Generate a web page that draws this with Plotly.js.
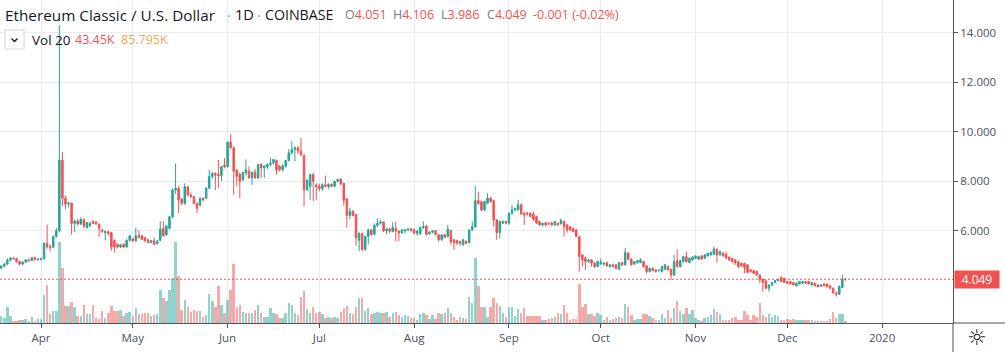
<!DOCTYPE html>
<html>
<head>
<meta charset="utf-8">
<script src="https://cdn.plot.ly/plotly-3.0.1.min.js"></script>
<style>html,body{margin:0;padding:0;background:#fff;}#chart{width:1005px;height:352px;}</style>
</head>
<body>
<div id="chart"></div>
<script>
// ---- DATA (ETC/USD daily, Coinbase, 2019-03-19 .. 2019-12-20) ----
const startDate = '2019-03-19';
const opens = [
 4.50,4.58,4.66,4.82,4.90,4.88,4.76,4.66,4.74,4.84,4.80,4.92,4.84,
 4.86,4.88,5.50,5.36,5.34,5.77,6.00,8.85,7.32,7.08,7.12,6.30,6.40,6.28,6.46,6.13,6.20,6.38,6.36,6.27,6.03,5.93,5.97,5.93,5.62,5.46,5.35,5.46,5.35,5.62,
 5.68,5.60,5.82,5.80,5.72,5.64,5.53,5.60,5.48,5.62,6.10,5.84,6.10,6.57,7.65,7.72,7.28,7.11,7.78,7.45,7.38,7.11,7.04,7.31,7.31,7.72,8.19,8.32,8.28,8.22,8.66,
 8.59,9.58,9.35,8.45,8.27,8.06,8.34,8.41,8.14,8.36,8.14,8.68,8.54,8.58,8.68,8.74,8.84,8.61,8.47,8.61,8.84,9.15,9.28,9.35,9.22,9.04,7.66,7.80,8.27,7.85,
 7.80,7.70,7.86,7.78,7.87,7.80,8.00,8.09,7.91,7.29,6.62,6.79,6.66,5.62,5.89,5.25,5.77,6.04,5.86,6.22,6.31,6.36,6.00,6.08,5.98,6.10,5.99,5.92,6.00,6.04,6.08,
 6.05,5.90,5.88,6.13,6.20,5.88,5.95,6.01,5.84,5.64,5.84,5.77,6.01,5.64,5.61,5.57,5.44,5.57,5.53,6.04,6.17,7.22,7.18,6.85,7.11,7.32,7.22,6.44,5.93,6.31,6.38,
 6.31,6.71,6.85,6.85,7.05,6.71,6.71,6.71,6.68,6.58,6.38,6.24,6.33,6.31,6.31,6.24,6.31,6.28,6.38,6.24,6.17,6.10,6.04,5.77,5.03,4.90,4.77,4.83,4.70,4.56,
 4.68,4.66,4.72,4.56,4.63,4.63,4.45,4.72,4.63,5.10,4.86,4.67,4.72,4.72,4.76,4.59,4.36,4.49,4.43,4.40,4.36,4.45,4.56,4.45,4.22,4.80,4.56,4.76,4.96,4.72,4.83,
 4.90,4.86,4.99,4.90,4.99,5.03,5.06,5.26,5.03,5.10,5.06,4.94,4.90,4.83,4.76,4.69,4.69,4.63,4.43,4.40,4.36,4.22,4.05,3.98,3.69,3.82,3.92,4.00,4.13,4.09,
 3.96,3.96,3.92,3.78,3.86,3.90,3.96,3.96,3.82,3.89,3.82,3.76,3.86,3.86,3.78,3.69,3.50,3.45,3.72,4.051
];
const highs = [
 4.62,4.70,4.90,4.95,4.95,4.92,4.80,4.78,4.86,4.88,4.95,4.96,4.90,
 4.92,5.55,6.25,5.45,5.82,6.13,14.30,9.18,7.42,7.18,7.14,6.45,6.48,6.55,6.50,6.36,6.38,6.44,6.40,6.30,6.10,6.02,6.00,5.96,5.66,5.50,5.48,5.50,5.66,5.84,
 5.72,6.13,6.02,5.84,5.76,5.68,5.64,5.74,5.64,6.40,6.40,6.22,6.60,7.70,8.72,7.80,7.32,7.92,7.82,7.55,7.42,7.15,7.36,7.36,7.76,8.46,8.38,8.36,8.86,8.62,8.93,
 9.60,9.89,9.40,8.50,8.36,8.36,8.88,8.60,8.40,8.50,8.70,8.72,8.64,8.72,8.95,8.90,8.88,8.66,8.70,8.84,9.30,9.62,9.42,9.42,9.76,9.10,8.10,8.30,8.35,7.92,
 7.90,7.92,8.23,7.92,7.92,8.02,8.10,8.12,7.95,7.32,6.92,6.84,6.70,5.95,5.92,5.82,6.10,6.08,6.30,6.50,6.45,6.40,6.12,6.12,6.35,6.38,6.02,6.06,6.08,6.10,6.12,
 6.10,6.02,6.18,6.39,6.24,5.99,6.04,6.04,5.88,5.88,5.88,6.24,6.06,5.68,5.64,5.60,5.68,5.62,6.06,6.38,7.81,7.58,7.22,7.22,7.52,7.36,7.26,6.48,6.42,6.42,6.42,
 6.74,7.05,6.92,7.25,7.11,6.76,6.78,6.74,6.78,6.62,6.42,6.32,6.36,6.34,6.38,6.40,6.34,6.51,6.42,6.28,6.20,6.14,6.08,5.80,5.08,4.94,4.86,4.86,4.74,4.78,
 4.88,4.74,4.76,4.66,4.68,4.66,4.76,4.76,5.30,5.15,4.90,4.78,4.82,4.90,4.80,4.62,4.52,4.52,4.46,4.45,4.58,4.67,4.60,4.48,5.03,5.26,4.84,5.00,5.17,4.92,4.98,
 5.02,5.00,5.04,5.06,5.12,5.16,5.36,5.30,5.20,5.14,5.17,4.98,4.92,4.86,4.80,4.72,4.72,4.66,4.46,4.42,4.40,4.25,4.08,4.02,3.84,3.94,4.02,4.08,4.16,4.12,
 3.98,3.98,3.95,3.92,3.98,3.99,3.98,3.98,3.94,3.92,3.84,3.84,3.88,3.88,3.82,3.71,3.55,3.80,4.24,4.106
];
const lows = [
 4.45,4.52,4.63,4.78,4.84,4.72,4.60,4.62,4.70,4.76,4.78,4.80,4.80,
 4.80,4.84,5.28,5.18,5.30,5.72,5.95,7.00,6.88,6.95,5.85,5.95,6.22,6.24,6.10,6.10,6.16,6.28,6.25,5.75,5.92,5.62,5.82,5.20,5.13,5.30,5.30,5.32,5.32,5.58,
 5.55,5.56,5.70,5.62,5.56,5.50,5.50,5.44,5.46,5.58,5.78,5.80,6.06,6.50,7.50,6.71,7.04,7.05,7.40,7.32,7.06,6.71,6.98,7.20,7.28,7.68,8.12,7.65,7.72,8.00,8.52,
 8.55,9.30,7.46,7.80,7.32,8.00,8.25,8.10,7.86,8.10,8.10,8.14,8.14,8.50,8.60,8.68,8.27,8.40,8.40,8.55,8.80,9.08,8.80,9.10,9.00,6.99,7.60,7.26,7.20,7.25,
 7.60,7.62,7.74,7.70,7.76,7.76,7.96,7.85,7.02,6.12,6.46,6.58,5.40,5.18,5.16,5.20,5.45,5.80,5.82,6.15,6.25,5.95,5.86,5.90,5.94,5.58,5.58,5.88,5.90,5.98,5.96,
 5.85,5.80,5.84,6.08,5.82,5.84,5.90,5.82,5.57,5.60,5.70,5.74,5.44,5.23,5.46,5.40,5.40,5.46,5.50,6.00,6.12,7.05,6.80,6.80,7.08,7.14,6.17,5.64,5.70,6.28,6.26,
 6.24,6.66,6.78,6.80,6.66,6.24,6.62,6.55,6.40,6.28,6.20,6.18,6.17,6.24,6.22,6.20,6.20,6.26,5.77,5.93,6.00,5.94,5.75,4.36,4.56,4.43,4.70,4.56,4.50,4.54,
 4.62,4.60,4.56,4.52,4.52,4.45,4.42,4.60,4.60,4.82,4.60,4.62,4.68,4.70,4.52,4.29,4.32,4.36,4.32,4.36,4.32,4.42,4.40,4.02,4.18,4.52,4.52,4.72,4.72,4.70,4.80,
 4.86,4.82,4.84,4.88,4.96,5.00,5.02,4.72,5.00,4.96,4.88,4.80,4.72,4.63,4.49,4.56,4.29,4.30,4.32,4.26,4.20,3.89,3.55,3.66,3.55,3.78,3.88,3.96,3.92,3.90,
 3.84,3.84,3.80,3.76,3.84,3.86,3.86,3.84,3.80,3.76,3.72,3.74,3.76,3.72,3.64,3.46,3.35,3.42,3.70,3.986
];
const closes = [
 4.58,4.66,4.82,4.90,4.88,4.76,4.66,4.74,4.84,4.80,4.92,4.84,4.86,
 4.88,5.50,5.36,5.34,5.77,6.00,8.85,7.32,7.08,7.12,6.30,6.40,6.28,6.46,6.20,6.34,6.30,6.30,6.28,6.11,5.97,5.97,5.89,5.35,5.35,5.35,5.44,5.35,5.62,5.80,
 5.60,5.80,5.73,5.66,5.60,5.53,5.60,5.46,5.58,6.07,5.80,6.20,6.57,7.65,7.72,7.25,7.11,7.78,7.45,7.38,7.11,6.91,7.31,7.25,7.72,8.19,8.32,8.25,8.22,8.59,8.59,
 9.58,9.35,8.41,8.20,8.00,8.36,8.47,8.14,8.36,8.14,8.68,8.54,8.61,8.68,8.74,8.88,8.45,8.47,8.61,8.84,9.15,9.28,9.35,9.22,9.08,7.66,8.04,8.27,8.00,7.78,
 7.70,7.86,7.80,7.87,7.80,8.00,8.07,7.89,7.23,6.62,6.79,6.62,5.72,5.89,5.25,5.77,6.04,5.86,6.22,6.31,6.36,6.00,6.08,5.98,6.15,5.99,5.92,6.05,6.04,6.08,6.02,
 5.92,6.00,6.13,6.18,5.85,5.95,6.01,5.86,5.64,5.84,5.74,6.07,5.57,5.53,5.50,5.50,5.64,5.50,6.04,6.17,7.22,7.11,6.85,7.18,7.32,7.18,6.44,5.93,6.38,6.38,6.31,
 6.71,6.85,6.92,7.05,6.68,6.64,6.68,6.58,6.47,6.31,6.24,6.31,6.24,6.28,6.24,6.38,6.24,6.42,6.17,6.04,6.04,5.97,5.77,4.97,4.83,4.77,4.83,4.70,4.56,4.77,
 4.74,4.70,4.59,4.63,4.56,4.49,4.72,4.63,5.13,4.86,4.63,4.76,4.80,4.83,4.56,4.36,4.49,4.40,4.36,4.42,4.56,4.63,4.43,4.22,4.76,4.56,4.80,4.96,4.76,4.90,4.94,
 4.99,4.96,4.86,5.03,5.10,5.13,5.26,5.03,5.17,4.99,4.90,4.83,4.76,4.72,4.56,4.59,4.53,4.32,4.36,4.29,4.22,4.05,3.92,3.69,3.82,3.92,4.00,4.05,3.96,3.92,
 3.89,3.86,3.82,3.89,3.96,3.95,3.89,3.86,3.92,3.78,3.75,3.82,3.78,3.75,3.69,3.50,3.45,3.76,4.06,4.049
];
// volume in thousands of ETC
const volumesK = [
 152,109,347,152,43,43,65,65,87,43,130,43,87,
 87,608,825,195,260,260,1758,1194,369,369,456,347,152,152,391,195,195,391,109,87,260,109,217,369,260,260,282,152,217,239,
 152,326,195,195,217,217,152,174,195,716,543,477,716,977,1758,1020,282,499,347,239,282,260,260,130,174,629,477,347,803,391,217,
 499,716,1280,347,391,239,217,217,217,282,391,217,130,130,326,217,195,109,109,217,434,391,217,174,564,694,304,217,347,217,
 239,195,109,130,109,130,109,239,326,369,217,195,347,543,543,260,326,195,217,239,217,217,239,130,217,239,174,130,174,152,109,
 109,65,195,217,174,87,174,87,217,195,217,326,217,130,65,130,109,87,564,434,1411,803,347,347,130,347,543,434,369,217,130,
 347,347,152,304,217,326,152,152,152,152,152,65,65,87,109,130,217,195,391,217,65,87,87,846,347,412,195,195,152,217,
 174,65,130,65,87,109,130,109,412,347,174,65,87,87,195,195,152,109,65,65,195,109,282,109,326,477,260,195,326,195,282,
 109,65,43,109,130,174,304,239,195,65,65,65,109,130,65,65,260,174,65,174,130,434,174,130,195,130,174,152,65,65,
 87,65,87,65,65,65,65,65,65,43,43,43,43,43,87,239,109,195,195,43.45
];
const monthTicks = ['2019-04-01','2019-05-01','2019-06-01','2019-07-01','2019-08-01','2019-09-01','2019-10-01','2019-11-01','2019-12-01','2020-01-01'];
const monthLabels = ['Apr','May','Jun','Jul','Aug','Sep','Oct','Nov','Dec','2020'];
const priceTicks = [6,8,10,12,14];
const lastPrice = 4.049;

// ---- BUILD ----
const N = closes.length;
const dates = [];
const t0 = Date.parse(startDate + 'T00:00:00Z');
for (let i = 0; i < N; i++) dates.push(new Date(t0 + i * 86400000).toISOString().slice(0, 10));

const UP = '#26a69a', DN = '#ef5350';
const volColors = closes.map((c, i) => c >= opens[i] ? 'rgba(38,166,154,0.5)' : 'rgba(239,83,80,0.5)');

const PW = 953, PH = 323;
const px = x => x / PW;
const py = y => (PH - y) / PH;
const FONT = 'Open Sans, sans-serif';
const AX = '#50535e';
const GRID = '#e6ecf2';

function ann(text, x, y, color, size, extra) {
  return Object.assign({
    text: text, xref: 'paper', yref: 'paper', x: px(x), y: py(y),
    xanchor: 'left', yanchor: 'middle', showarrow: false, borderpad: 0,
    font: {family: FONT, size: size || 13, color: color || '#131722'}
  }, extra || {});
}
const lab = s => '<span style="color:#787b86">' + s + '</span>';

const traces = [
  {
    type: 'bar', x: dates, y: volumesK, xaxis: 'x', yaxis: 'y',
    marker: {color: volColors, line: {width: 0}}, width: 0.8 * 86400000,
    hoverinfo: 'skip'
  },
  {
    type: 'candlestick', x: dates, open: opens, high: highs, low: lows, close: closes,
    xaxis: 'x', yaxis: 'y2', whiskerwidth: 0,
    increasing: {line: {color: UP, width: 1}, fillcolor: UP},
    decreasing: {line: {color: DN, width: 1}, fillcolor: DN},
    hoverinfo: 'skip'
  }
];

const layout = {
  width: 1005, height: 352,
  margin: {l: 0, r: 52, t: 0, b: 29, pad: 0},
  paper_bgcolor: '#ffffff', plot_bgcolor: '#ffffff',
  showlegend: false, bargap: 0,
  font: {family: FONT, color: '#131722'},
  xaxis: {
    type: 'date', range: ['2019-03-18 14:17', '2020-01-24 04:19'],
    tickmode: 'array', tickvals: monthTicks, ticktext: monthLabels,
    showgrid: true, gridcolor: GRID, gridwidth: 1,
    ticks: 'outside', ticklen: 4, tickcolor: AX,
    showline: true, linecolor: AX, linewidth: 1, zeroline: false,
    tickfont: {family: FONT, size: 11.5, color: '#4c525e'},
    rangeslider: {visible: false}, fixedrange: true
  },
  yaxis: {range: [0, 7009], visible: false, showgrid: false, zeroline: false, fixedrange: true},
  yaxis2: {
    overlaying: 'y', side: 'right', range: [2.286, 15.31],
    tickmode: 'array', tickvals: priceTicks, tickformat: '.3f',
    showgrid: true, gridcolor: GRID, gridwidth: 1,
    ticks: 'outside', ticklen: 4, tickcolor: AX,
    showline: true, linecolor: AX, linewidth: 1, zeroline: false,
    tickfont: {family: FONT, size: 11.5, color: '#4c525e'}, fixedrange: true
  },
  shapes: [
    {type: 'line', xref: 'paper', yref: 'y2', x0: 0, x1: 1, y0: lastPrice, y1: lastPrice,
     line: {color: DN, width: 1, dash: '2px,2px'}},
    {type: 'line', xref: 'paper', yref: 'paper', x0: 1, x1: 1.06, y0: 0, y1: 0, line: {color: AX, width: 1}},
    {type: 'line', xref: 'paper', yref: 'paper', x0: 1, x1: 1, y0: -0.1, y1: 0, line: {color: AX, width: 1}},
    {type: 'rect', xref: 'paper', yref: 'paper', x0: px(5), x1: px(24), y0: py(49), y1: py(30),
     line: {color: '#d1d4dc', width: 1}, fillcolor: '#ffffff'},
    {type: 'path', xref: 'paper', yref: 'paper',
     path: 'M ' + px(11.5) + ',' + py(38.5) + ' L ' + px(14.5) + ',' + py(41.5) + ' L ' + px(17.5) + ',' + py(38.5),
     line: {color: '#131722', width: 1.3}}
  ],
  annotations: [
    ann('Ethereum Classic / U.S. Dollar', 4, 15, '#131722', 15.3),
    ann('·', 226, 15, '#9598a1', 15),
    ann('1D', 234, 15, '#131722', 14.5),
    ann('·', 256, 15, '#9598a1', 15),
    ann('COINBASE', 264, 15, '#131722', 14.2),
    ann(lab('O') + '4.051', 344, 15, DN, 12.5),
    ann(lab('H') + '4.106', 392, 15, DN, 12.5),
    ann(lab('L') + '3.986', 440, 15, DN, 12.5),
    ann(lab('C') + '4.049', 486, 15, DN, 12.5),
    ann('-0.001 (-0.02%)', 532, 15, DN, 12.5),
    ann('Vol 20', 31, 40, '#131722', 13.5),
    ann('43.45K', 74, 40, DN, 12.5),
    ann('85.795K', 120, 40, '#f7a350', 12.5),
    {text: '4.049', xref: 'paper', yref: 'y2', x: px(954), y: lastPrice, xanchor: 'left', yanchor: 'middle',
     showarrow: false, bgcolor: DN, width: 40, height: 13, borderpad: 2, align: 'center',
     font: {family: FONT, size: 12, color: '#ffffff'}},
    {text: '☼', xref: 'paper', yref: 'paper', x: px(977), y: py(337), xanchor: 'center', yanchor: 'middle',
     showarrow: false, font: {family: 'DejaVu Sans', size: 22, color: '#131722'}}
  ]
};

Plotly.newPlot('chart', traces, layout, {staticPlot: true, displayModeBar: false});
</script>
</body>
</html>
